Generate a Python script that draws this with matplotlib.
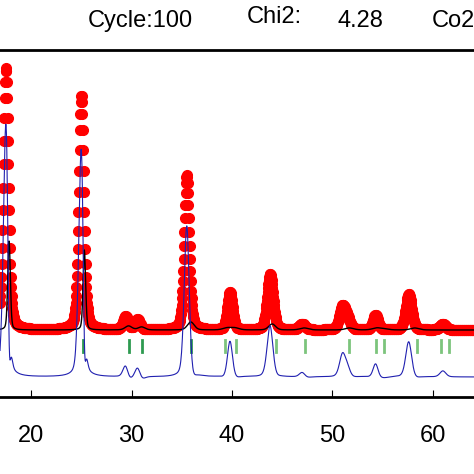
import matplotlib
matplotlib.use("Agg")
import matplotlib.pyplot as plt
import numpy as np

plt.rcParams["font.family"] = ["Liberation Sans", "DejaVu Sans"]

# observed peaks: position (2theta), height above background, width
obs_pos = [17.5, 25.0, 29.4, 30.6, 35.5, 39.8, 43.8, 47.0, 51.0, 51.5, 54.3, 57.6, 61.0]
obs_hgt = [262, 235, 13, 10, 155, 38, 56, 6, 22, 10, 15, 36, 6]
obs_wid = [0.3, 0.3, 0.3, 0.3, 0.3, 0.3, 0.35, 0.35, 0.35, 0.35, 0.3, 0.35, 0.35]
# calculated peaks (poor fit)
calc_pos = [17.8, 25.3, 29.7, 31.0, 35.9, 39.5, 40.3, 44.0, 47.2, 51.7, 54.4, 55.2, 58.2]
calc_hgt = [90, 80, 4, 3, 8, 2, 2, 6, 2, 2, 2, 1, 2]
calc_wid = [0.15, 0.15, 0.4, 0.4, 0.4, 0.5, 0.5, 0.4, 0.5, 0.5, 0.5, 0.5, 0.5]
background = 67
diff_base = 20
# Bragg reflection positions
bragg = [25.2, 29.7, 31.0, 35.9, 39.3, 40.4, 44.4, 47.25, 51.7, 54.3, 55.1, 58.4, 60.8, 61.6]

x = np.arange(16.9, 64.2, 0.04)

def profile(pos, hgt, wid):
    y = np.full_like(x, float(background))
    for p, h, w in zip(pos, hgt, wid):
        u = (x - p) / w
        y += h * (0.3 / (1 + u ** 2) + 0.7 * np.exp(-0.693 * u ** 2))
    return y

yobs = profile(obs_pos, obs_hgt, obs_wid)
ycalc = profile(calc_pos, calc_hgt, calc_wid)
ydiff = yobs - ycalc + diff_base

fig = plt.figure(figsize=(4.74, 4.74), dpi=100)
ax = fig.add_axes([0, 1 - 397 / 474, 1, 347 / 474])
ax.plot(x, yobs, "o", color="red", ms=7, mec="red", zorder=2)
ax.plot(x, ycalc, color="black", lw=1, zorder=3)
ax.plot(x, ydiff, color="#2020b0", lw=0.8, zorder=3)
for b in bragg:
    ax.plot([b, b], [45, 57], color="#2e9a50" if b < 36 else "#7cc47c", lw=2)

ax.set_xlim(16.9, 64.1)
ax.set_ylim(0, 347)
ax.set_yticks([])
ax.set_xticks([20, 30, 40, 50, 60])
ax.tick_params(axis="x", direction="in", length=5, labelsize=17, pad=20)
for s in ["left", "right"]:
    ax.spines[s].set_visible(False)
ax.spines["top"].set_linewidth(2)
ax.spines["bottom"].set_linewidth(2)

fig.text(88 / 474, 0.955, "Cycle:100", fontsize=17, ha="left", va="center")
fig.text(247 / 474, 0.965, "Chi2:", fontsize=17, ha="left", va="center")
fig.text(338 / 474, 0.955, "4.28", fontsize=17, ha="left", va="center")
fig.text(432 / 474, 0.955, "Co2", fontsize=17, ha="left", va="center")

fig.savefig("out.png", dpi=100)
